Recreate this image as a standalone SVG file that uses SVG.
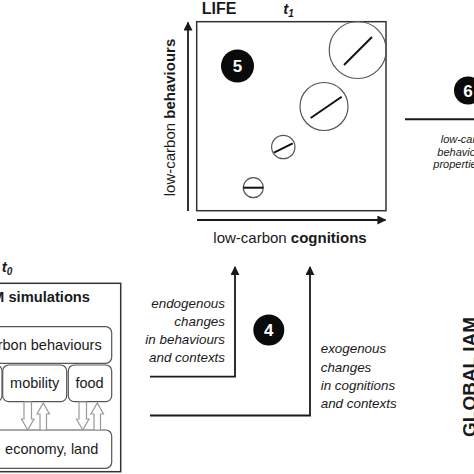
<svg xmlns="http://www.w3.org/2000/svg" width="474" height="474" viewBox="0 0 474 474">
  <defs>
    <marker id="ah" viewBox="0 0 10 10" refX="9" refY="5" markerWidth="9" markerHeight="9" markerUnits="userSpaceOnUse" orient="auto">
      <path d="M0,0 L10,5 L0,10 z" fill="#1a1a1a"/>
    </marker>
    <style>
      text { font-family: "Liberation Sans", Arial, sans-serif; fill: #1a1a1a; }
      .title { font-size: 16px; font-weight: bold; }
      .tsub { font-size: 15px; font-weight: bold; font-style: italic; }
      .axis { font-size: 15px; }
      .b { font-weight: bold; }
      .it { font-size: 13.4px; font-style: italic; }
      .it6 { font-size: 11px; font-style: italic; }
      .box { font-size: 14.5px; }
      .num { font-size: 17px; font-weight: bold; fill: #fff; text-anchor: middle; }
      .badge { fill: #0a0a0a; }
      .line { fill: none; stroke: #1a1a1a; stroke-width: 1.8; }
      .frame { fill: #fff; stroke: #333; stroke-width: 1.5; }
      .rbox { fill: #fff; stroke: #555; stroke-width: 1.2; }
      .bubble { fill: none; stroke: #555; stroke-width: 1.2; }
      .slope { stroke: #111; stroke-width: 2; }
      .hollow { fill: #fff; stroke: #999; stroke-width: 1.2; }
    </style>
  </defs>

  <rect width="474" height="474" fill="#fff"/>

  <!-- LIFE panel -->
  <g id="life">
    <text class="title" x="201.7" y="13.5">LIFE</text>
    <text class="tsub" x="283.3" y="14">t<tspan font-size="10" dy="3">1</tspan></text>
    <rect class="frame" x="196.7" y="21.7" width="189.3" height="189"/>
    <text class="axis" x="290" y="242.7" text-anchor="middle">low-carbon <tspan class="b">cognitions</tspan></text>
    <text class="axis" transform="translate(175,117.5) rotate(-90)" text-anchor="middle">low-carbon <tspan class="b">behaviours</tspan></text>
  </g>

  <g id="node5">
    <circle class="badge" cx="237.5" cy="66" r="16.5"/>
    <text class="num" x="237.5" y="72">5</text>
  </g>

  <g id="bubbles">
    <circle class="bubble" cx="357.7" cy="50" r="28.5"/>
    <line class="slope" x1="344" y1="65" x2="372" y2="37"/>
    <circle class="bubble" cx="324" cy="106.5" r="24"/>
    <line class="slope" x1="310.7" y1="118" x2="341.7" y2="96.7"/>
    <circle class="bubble" cx="283.3" cy="147" r="11.7"/>
    <line class="slope" x1="274" y1="152.7" x2="292.7" y2="143.3"/>
    <circle class="bubble" cx="253.3" cy="187.7" r="10"/>
    <line class="slope" x1="243.3" y1="187.7" x2="263.3" y2="187.7"/>
  </g>

  <!-- node 6 (cut off at right) -->
  <g id="node6">
    <circle class="badge" cx="468" cy="90.5" r="14"/>
    <text class="num" x="468" y="96.5">6</text>
    <line x1="405" y1="119.3" x2="474" y2="119.3" stroke="#1a1a1a" stroke-width="2"/>
    <text class="it6" x="440.7" y="143">low-carbon</text>
    <text class="it6" x="437.3" y="155.5">behaviours</text>
    <text class="it6" x="433.3" y="167.5">properties</text>
  </g>

  <!-- node 4 -->
  <g id="node4">
    <circle class="badge" cx="268.8" cy="330" r="15.5"/>
    <text class="num" x="268.8" y="336">4</text>
  </g>

  <g id="endo-label">
    <text class="it" x="225" y="308" text-anchor="end">endogenous</text>
    <text class="it" x="225" y="326" text-anchor="end">changes</text>
    <text class="it" x="225" y="344" text-anchor="end">in behaviours</text>
    <text class="it" x="225" y="362" text-anchor="end">and contexts</text>
  </g>

  <g id="exo-label">
    <text class="it" x="320.7" y="353.3">exogenous</text>
    <text class="it" x="320.7" y="371.7">changes</text>
    <text class="it" x="320.7" y="390">in cognitions</text>
    <text class="it" x="320.7" y="408.3">and contexts</text>
  </g>

  <!-- GLOBAL IAM label -->
  <g id="global-iam">
    <text transform="translate(475.5,437) rotate(-90)" font-size="19" font-weight="bold">GLOBAL IAM</text>
  </g>

  <!-- IAM simulations panel (cut off at left) -->
  <g id="iam">
    <text class="tsub" x="1.7" y="272">t<tspan font-size="10" dy="3">0</tspan></text>
    <rect class="frame" x="-10" y="283.3" width="130.7" height="188.4"/>
    <text x="90" y="302" font-size="14.7" font-weight="bold" text-anchor="end">IAM simulations</text>
  </g>

  <g id="behaviours-box">
    <rect class="rbox" x="-20" y="326.7" width="131.7" height="36.6" rx="6"/>
    <text class="box" x="101.7" y="350" text-anchor="end">low-carbon behaviours</text>
  </g>

  <g id="left-box">
    <rect class="rbox" x="-40" y="365" width="42" height="36.7" rx="6" stroke="#444" stroke-width="2"/>
  </g>

  <g id="mobility-box">
    <rect class="rbox" x="2.7" y="365" width="64" height="36.7" rx="6"/>
    <text class="box" x="34.7" y="388" text-anchor="middle">mobility</text>
  </g>

  <g id="food-box">
    <rect class="rbox" x="68.3" y="365" width="43.4" height="36.7" rx="6"/>
    <text class="box" x="89.5" y="388" text-anchor="middle">food</text>
  </g>

  <g id="economy-box">
    <rect class="rbox" x="-20" y="430" width="131.7" height="38.3" rx="6"/>
    <text class="box" x="51.7" y="453.5" text-anchor="middle">economy, land</text>
  </g>

  <!-- connectors -->
  <g id="connectors">
    <line class="line" x1="188" y1="211" x2="188" y2="22.5" marker-end="url(#ah)"/>
    <line class="line" x1="197" y1="220" x2="385.5" y2="220" marker-end="url(#ah)"/>
    <polyline class="line" points="150,376.7 235,376.7 235,267" marker-end="url(#ah)"/>
    <polyline class="line" points="150,415.5 310,415.5 310,267" marker-end="url(#ah)"/>
    <polygon class="hollow" points="24,402 31.5,402 31.5,419 34,419 27.75,430 21.5,419 24,419"/>
    <polygon class="hollow" points="40,430 46.5,430 46.5,414 49.5,414 43.25,403 37,414 40,414"/>
    <polygon class="hollow" points="79,402 86.5,402 86.5,419 89,419 82.75,430 76.5,419 79,419"/>
    <polygon class="hollow" points="94,430 100.5,430 100.5,414 103.5,414 97.25,403 91,414 94,414"/>
  </g>
</svg>
